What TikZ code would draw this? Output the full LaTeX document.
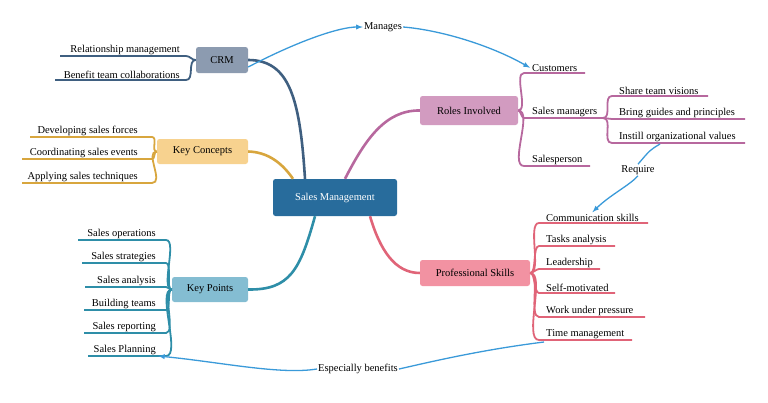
\documentclass[tikz,border=0pt]{standalone}
\usepackage{fontspec}
\setmainfont{Liberation Serif}
\begin{document}
\begin{tikzpicture}[x=1pt,y=-1pt,
 box/.style={rounded corners=2.5pt,inner sep=0pt,font=\fontsize{10.5}{12}\selectfont},
 leaf/.style={inner xsep=2pt,inner ysep=1.5pt,font=\fontsize{10.5}{12}\selectfont},
 lbl/.style={fill=white,inner sep=1pt,font=\fontsize{10.5}{12}\selectfont},
 br/.style={line width=2.6pt},
 tw/.style={line width=1.8pt},
 arr/.style={draw=arrc,line width=1.3pt,-latex}]
\definecolor{mainc}{HTML}{286C9C}
\definecolor{crmf}{HTML}{8C9BB0}\definecolor{crml}{HTML}{3F5F80}
\definecolor{kcf}{HTML}{F7D28F}\definecolor{kcl}{HTML}{D8A63E}
\definecolor{kpf}{HTML}{84BDD2}\definecolor{kpl}{HTML}{2E8EA8}
\definecolor{rif}{HTML}{D29BC0}\definecolor{ril}{HTML}{B7689E}
\definecolor{psf}{HTML}{F292A2}\definecolor{psl}{HTML}{E06478}
\definecolor{arrc}{HTML}{3A9AD9}
\useasboundingbox (0,0) rectangle (768,402);

\node[box,fill=mainc,text=white,minimum width=124,minimum height=37] (c) at (335,197.5) {Sales Management};
\node[box,fill=crmf,minimum width=52,minimum height=26] (crm) at (222,60) {CRM};
\node[box,fill=kcf,minimum width=91,minimum height=25] (kc) at (202.5,151.5) {Key Concepts};
\node[box,fill=kpf,minimum width=76,minimum height=25] (kp) at (210,289.5) {Key Points};
\node[box,fill=rif,minimum width=98,minimum height=29] (ri) at (469,110.5) {Roles Involved};
\node[box,fill=psf,minimum width=110,minimum height=26] (ps) at (475,273) {Professional Skills};

% main branches
\draw[br,crml] ([xshift=-30]c.north) .. controls (300,100) and (290,60) .. (crm.east);
\draw[br,kcl] ([xshift=-42]c.north) .. controls (280,160) and (265,152) .. (kc.east);
\draw[br,kpl] ([xshift=-20]c.south) .. controls (300,270) and (290,290) .. (kp.east);
\draw[br,ril] ([xshift=10]c.north) .. controls (365,140) and (385,110) .. (ri.west);
\draw[br,psl] ([xshift=35]c.south) .. controls (380,250) and (395,273) .. (ps.west);

% CRM leaves
\node[leaf,anchor=south east] (a1) at (182,56) {Relationship management};
\node[leaf,anchor=south east] (a2) at (182,80) {Benefit team collaborations};
\foreach \n/\s in {a1/60,a2/55}{
 \draw[tw,crml] (crm.west) to[out=180,in=0] ([xshift=4]\n.south east) -- (\s,0 |- \n.south);}

% Key concepts
\node[leaf,anchor=south east] (k1) at (140,137) {Developing sales forces};
\node[leaf,anchor=south east] (k2) at (140,159) {Coordinating sales events};
\node[leaf,anchor=south east] (k3) at (140,183) {Applying sales techniques};
\foreach \n/\s in {k1/30,k2/22,k3/22}{
 \draw[tw,kcl] (kc.west) to[out=180,in=0] ([xshift=12]\n.south east) -- (\s,0 |- \n.south);}

% Key points
\node[leaf,anchor=south east] (p1) at (158,240) {Sales operations};
\node[leaf,anchor=south east] (p2) at (158,263) {Sales strategies};
\node[leaf,anchor=south east] (p3) at (158,287) {Sales analysis};
\node[leaf,anchor=south east] (p4) at (158,310) {Building teams};
\node[leaf,anchor=south east] (p5) at (158,333) {Sales reporting};
\node[leaf,anchor=south east] (p6) at (158,356) {Sales Planning};
\foreach \n/\s in {p1/78,p2/82,p3/85,p4/84,p5/84,p6/88}{
 \draw[tw,kpl] (kp.west) to[out=180,in=0,looseness=0.6] ([xshift=8]\n.south east) -- (\s,0 |- \n.south);}

% Roles involved
\node[leaf,anchor=south west] (r1) at (530,73) {Customers};
\node[leaf,anchor=south west] (r2) at (530,118) {Sales managers};
\node[leaf,anchor=south west] (r3) at (530,166) {Salesperson};
\foreach \n/\e in {r1/585,r2/603,r3/590}{
 \draw[tw,ril] (ri.east) to[out=0,in=180,looseness=0.7] ([xshift=-6]\n.south west) -- (\e,0 |- \n.south);}
\node[leaf,anchor=south west] (s1) at (617,96) {Share team visions};
\node[leaf,anchor=south west] (s2) at (617,119) {Bring guides and principles};
\node[leaf,anchor=south west] (s3) at (617,143) {Instill organizational values};
\foreach \n/\e in {s1/708,s2/745,s3/745}{
 \draw[tw,ril] (603,118) to[out=0,in=180] ([xshift=-5]\n.south west) -- (\e,0 |- \n.south);}

% Professional skills
\node[leaf,anchor=south west] (q1) at (544,223) {Communication skills};
\node[leaf,anchor=south west] (q2) at (544,246) {Tasks analysis};
\node[leaf,anchor=south west] (q3) at (544,269) {Leadership};
\node[leaf,anchor=south west] (q4) at (544,293) {Self-motivated};
\node[leaf,anchor=south west] (q5) at (544,317) {Work under pressure};
\node[leaf,anchor=south west] (q6) at (544,340) {Time management};
\foreach \n/\e in {q1/648,q2/615,q3/600,q4/615,q5/645,q6/632}{
 \draw[tw,psl] (ps.east) to[out=0,in=180,looseness=0.6] ([xshift=-5]\n.south west) -- (\e,0 |- \n.south);}

% cross links
\node[lbl] (m) at (383,27) {Manages};
\draw[arr] ([yshift=-7]crm.east) .. controls (300,40) and (340,27) .. (m.west);
\draw[arr] (m.east) .. controls (440,30) and (490,45) .. (r1.west);
\node[lbl] (rq) at (638,170) {Require};
\draw[arr,-] (660,144) .. controls (650,150) .. (rq.north);
\draw[arr] (rq.south) .. controls (630,185) and (610,195) .. (q1.north);
\node[lbl] (eb) at (358,369) {Especially benefits};
\draw[arr,-] ([yshift=-2]q6.south west) .. controls (480,350) and (430,362) .. (eb.east);
\draw[arr] (eb.west) .. controls (280,375) and (220,362) .. (p6.south east);
\end{tikzpicture}
\end{document}
